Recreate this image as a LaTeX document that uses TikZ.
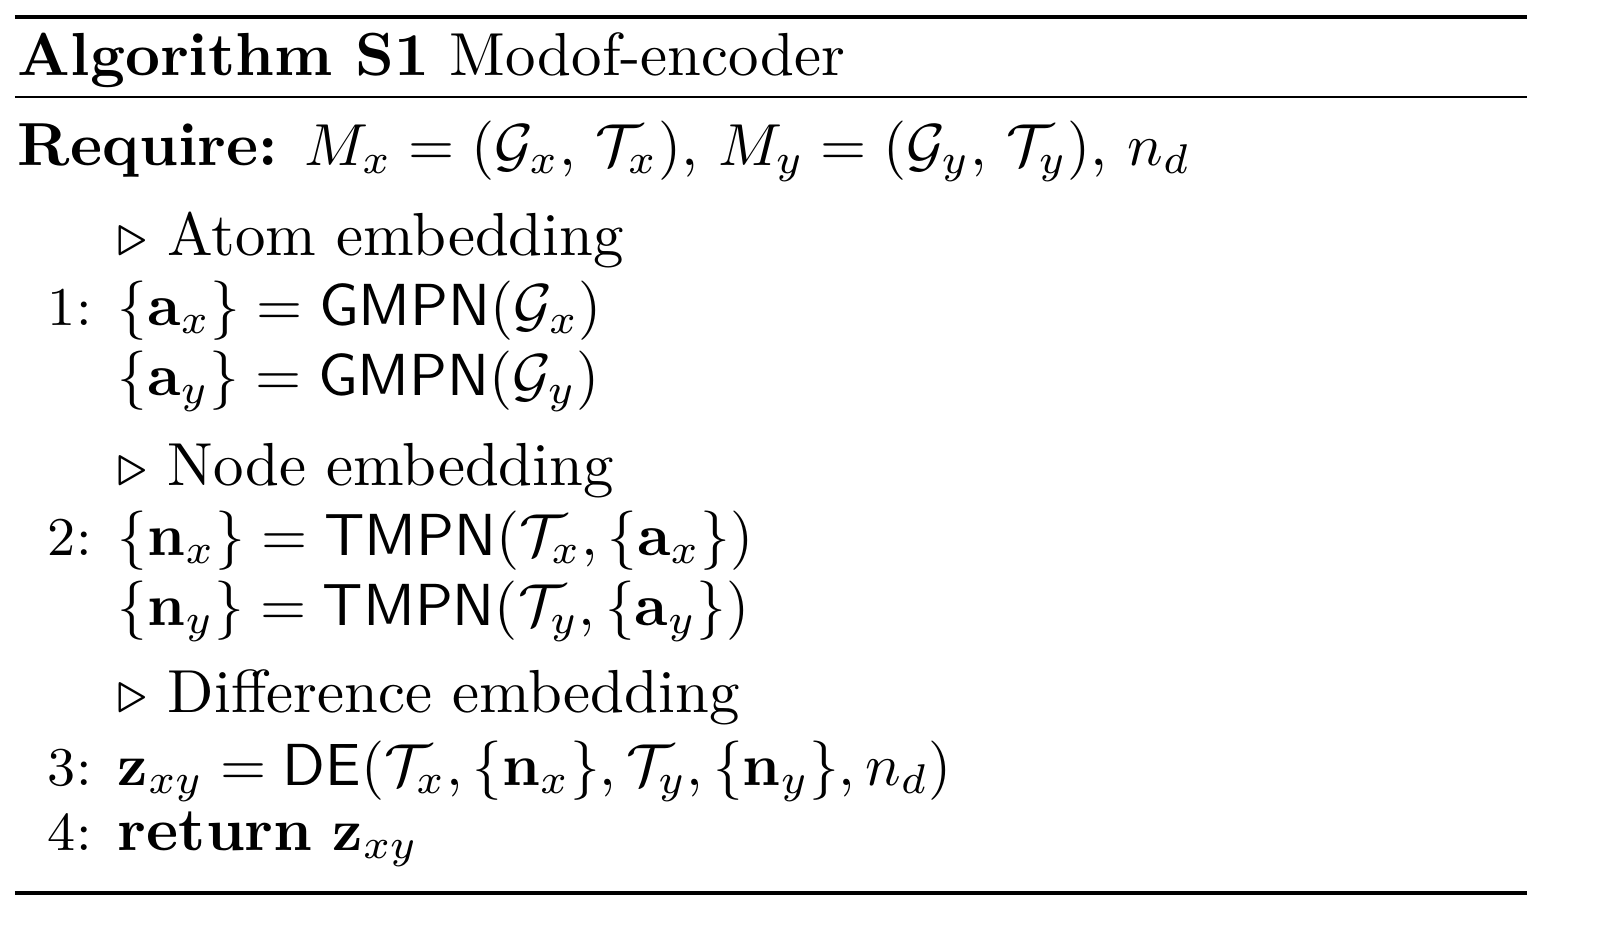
\documentclass[tikz,border=0pt]{standalone}
\usepackage{amsmath,amssymb}
\begin{document}
\begin{tikzpicture}[x=0.1686pt,y=-0.1686pt,
  txt/.style={anchor=base west,inner sep=0pt,outer sep=0pt,font=\fontsize{10.25}{12}\selectfont}]
\useasboundingbox (0,0) rectangle (1598,930);
\draw[line width=0.8pt] (15,17) -- (1527,17);
\draw[line width=0.4pt] (15,97) -- (1527,97);
\draw[line width=0.8pt] (15,893) -- (1527,893);
\node[txt] (title) at (18,75) {\textbf{Algorithm S1} Modof-encoder};
\node[txt] (req) at (18,165) {\textbf{Require:} $M_x=(\mathcal{G}_x,\,\mathcal{T}_x)$, $M_y=(\mathcal{G}_y,\,\mathcal{T}_y)$, $n_d$};
\node[txt] (c1) at (118,255) {$\triangleright$ Atom embedding};
\node[txt,font=\fontsize{9.2}{11}\selectfont] (n1) at (48,325) {1:};
\node[txt] (l1a) at (118,325) {$\{\mathbf{a}_x\}=\mathsf{GMPN}(\mathcal{G}_x)$};
\node[txt] (l1b) at (118,395) {$\{\mathbf{a}_y\}=\mathsf{GMPN}(\mathcal{G}_y)$};
\node[txt] (c2) at (118,485) {$\triangleright$ Node embedding};
\node[txt,font=\fontsize{9.2}{11}\selectfont] (n2) at (48,555) {2:};
\node[txt] (l2a) at (118,555) {$\{\mathbf{n}_x\}=\mathsf{TMPN}(\mathcal{T}_x,\{\mathbf{a}_x\})$};
\node[txt] (l2b) at (118,625) {$\{\mathbf{n}_y\}=\mathsf{TMPN}(\mathcal{T}_y,\{\mathbf{a}_y\})$};
\node[txt] (c3) at (118,712) {$\triangleright$ Difference embedding};
\node[txt,font=\fontsize{9.2}{11}\selectfont] (n3) at (48,785) {3:};
\node[txt] (l3) at (118,785) {$\mathbf{z}_{xy}=\mathsf{DE}(\mathcal{T}_x,\{\mathbf{n}_x\},\mathcal{T}_y,\{\mathbf{n}_y\},n_d)$};
\node[txt,font=\fontsize{9.2}{11}\selectfont] (n4) at (48,850) {4:};
\node[txt] (l4) at (118,850) {\textbf{return} $\mathbf{z}_{xy}$};
\end{tikzpicture}
\end{document}
